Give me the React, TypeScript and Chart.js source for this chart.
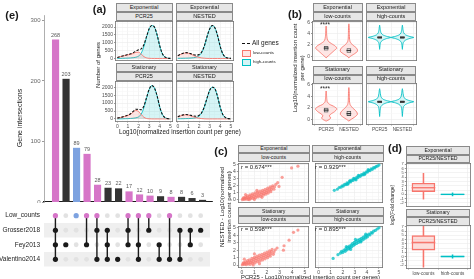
import React, { useEffect, useRef } from 'react';
import { Chart, registerables } from 'chart.js';

Chart.register(...registerables);

// ================= DATA =================
const phases = ['Exponential', 'Stationary'];
const methods = ['PCR25', 'NESTED'];
const countGroups = ['low-counts', 'high-counts'];

// (e) UpSet plot
const setNames = ['Low_counts', 'Grosser2018', 'Fey2013', 'Valentino2014'];
const intersectionSizes = [268, 203, 89, 79, 28, 23, 22, 17, 12, 10, 9, 8, 8, 6, 3];
const memberLow = [1, 0, 1, 1, 1, 0, 0, 1, 1, 1, 0, 1, 0, 0, 0];
const memberGrosser = [1, 0, 0, 0, 1, 1, 0, 1, 0, 1, 0, 0, 1, 1, 1];
const memberFey = [1, 1, 0, 1, 0, 1, 0, 1, 1, 0, 1, 0, 0, 1, 0];
const memberValentino = [1, 0, 0, 0, 1, 1, 1, 0, 1, 0, 1, 1, 1, 0, 0];
const intersectionTicks = [0, 100, 200, 300];

// (a) density curves (Number of genes vs log10 count)
const densityX = [0, 0.25, 0.5, 0.75, 1, 1.25, 1.5, 1.75, 2, 2.25, 2.5, 2.75, 3, 3.25, 3.5, 3.75, 4, 4.25, 4.5, 4.75, 5];
const densExpPcrLow = [60, 110, 150, 190, 230, 260, 320, 390, 400, 280, 120, 40, 10, 3, 0, 0, 0, 0, 0, 0, 0];
const densExpPcrHigh = [5, 8, 12, 18, 25, 35, 50, 80, 150, 330, 750, 1350, 1880, 2100, 2000, 1500, 800, 300, 90, 20, 5];
const densExpPcrAll = [65, 118, 162, 208, 255, 295, 370, 470, 550, 610, 870, 1390, 1890, 2103, 2000, 1500, 800, 300, 90, 20, 5];
const densExpNestLow = [170, 250, 320, 350, 330, 270, 190, 120, 70, 35, 15, 5, 0, 0, 0, 0, 0, 0, 0, 0, 0];
const densExpNestHigh = [10, 12, 15, 20, 25, 35, 50, 90, 180, 380, 780, 1380, 1880, 2100, 1950, 1450, 750, 280, 80, 20, 5];
const densExpNestAll = [180, 262, 335, 370, 355, 305, 240, 210, 250, 415, 795, 1385, 1880, 2100, 1950, 1450, 750, 280, 80, 20, 5];
const densStatPcrLow = [50, 80, 120, 170, 220, 300, 430, 540, 470, 280, 110, 30, 8, 0, 0, 0, 0, 0, 0, 0, 0];
const densStatPcrHigh = [5, 8, 10, 15, 20, 30, 45, 70, 130, 300, 700, 1300, 1850, 2100, 1950, 1450, 750, 280, 80, 20, 5];
const densStatPcrAll = [55, 88, 130, 185, 240, 330, 475, 610, 600, 580, 810, 1330, 1858, 2100, 1950, 1450, 750, 280, 80, 20, 5];
const densStatNestLow = [130, 190, 240, 260, 240, 190, 130, 80, 45, 20, 8, 0, 0, 0, 0, 0, 0, 0, 0, 0, 0];
const densStatNestHigh = [10, 12, 15, 20, 25, 35, 50, 90, 180, 380, 760, 1300, 1800, 2000, 1900, 1400, 720, 270, 80, 20, 5];
const densStatNestAll = [140, 202, 255, 280, 265, 225, 180, 170, 225, 400, 768, 1300, 1800, 2000, 1900, 1400, 720, 270, 80, 20, 5];
const densityYTicks = [0, 500, 1000, 1500, 2000];

// (b) violin profiles: levels (log10 count) and half-widths
const vioExpPcrLowY = [-0.3, 0, 0.5, 1.0, 1.4, 1.8, 2.2, 2.6, 3.0, 3.5, 4.0, 4.5, 5.0, 5.3];
const vioExpPcrLowW = [0, 0.08, 0.22, 0.36, 0.47, 0.4, 0.24, 0.1, 0.05, 0.03, 0.02, 0.02, 0.015, 0];
const vioExpNestLowY = [-0.3, 0, 0.4, 0.8, 1.1, 1.5, 2.0, 2.5, 3.0, 4.0, 5.0, 5.7];
const vioExpNestLowW = [0, 0.08, 0.24, 0.37, 0.38, 0.32, 0.16, 0.06, 0.03, 0.02, 0.015, 0];
const vioStatPcrLowY = [-0.3, 0, 0.25, 0.6, 0.9, 1.3, 1.8, 2.2, 2.6, 3.0, 3.5, 4.0, 4.5, 4.9];
const vioStatPcrLowW = [0, 0.15, 0.2, 0.14, 0.2, 0.36, 0.48, 0.36, 0.15, 0.05, 0.03, 0.02, 0.015, 0];
const vioStatNestLowY = [-0.3, 0, 0.4, 0.8, 1.1, 1.5, 2.0, 2.5, 3.0, 4.0, 5.0, 5.5];
const vioStatNestLowW = [0, 0.1, 0.26, 0.37, 0.37, 0.3, 0.16, 0.06, 0.03, 0.02, 0.015, 0];
const vioExpHighY = [1.2, 2.0, 2.5, 2.85, 3.1, 3.3, 3.5, 3.75, 4.1, 4.6, 5.1, 5.45];
const vioExpHighW = [0, 0.02, 0.05, 0.15, 0.3, 0.5, 0.3, 0.14, 0.06, 0.03, 0.015, 0];
const vioStatHighY = [0.5, 1.5, 2.2, 2.6, 2.85, 3.05, 3.25, 3.5, 3.9, 4.5, 5.0, 5.3];
const vioStatHighW = [0, 0.02, 0.05, 0.15, 0.3, 0.5, 0.3, 0.14, 0.06, 0.03, 0.015, 0];
// inner boxes [q1, median, q3]
const boxExpPcrLow = [1.05, 1.4, 1.75];
const boxExpNestLow = [0.65, 1.0, 1.35];
const boxStatPcrLow = [1.25, 1.6, 1.95];
const boxStatNestLow = [0.65, 1.0, 1.4];
const boxExpHigh = [3.15, 3.3, 3.45];
const boxStatHigh = [2.9, 3.05, 3.2];

// (c) scatter PCR25 vs NESTED
const scatExpLow: number[][] = [[0.05,0.02],[0.1,0.15],[0.15,0.3],[0.2,0.05],[0.25,0.2],[0.3,0.4],[0.35,0.1],[0.4,0.3],[0.45,0.55],[0.5,0.05],[0.55,0.25],[0.6,0.45],[0.65,0.7],[0.7,0.15],[0.75,0.35],[0.8,0.6],[0.85,0.85],[0.9,0.2],[0.95,0.45],[1.0,0.7],[1.05,1.0],[1.1,0.3],[1.15,0.55],[1.2,0.85],[1.25,1.1],[1.3,0.4],[1.35,0.65],[1.4,0.95],[1.45,1.25],[1.5,0.5],[1.55,0.8],[1.6,1.05],[1.65,1.35],[1.7,0.65],[1.75,0.9],[1.8,1.2],[1.85,1.5],[1.9,0.8],[1.95,1.05],[2.0,1.35],[2.05,1.65],[2.1,0.95],[2.15,1.25],[2.2,1.55],[2.25,1.85],[2.3,1.15],[2.35,1.45],[2.4,1.75],[2.45,2.0],[2.55,1.5],[2.6,1.85],[2.7,2.2],[0.3,0.75],[2.85,2.45],[3.2,3.2],[2.95,1.9],[3.95,4.55],[4.45,4.8],[1.2,1.35],[1.6,0.35],[1.0,0.05],[0.6,0.02]];
const scatExpHigh: number[][] = [[1.3,1.35],[1.55,1.5],[1.7,1.75],[1.85,1.8],[1.95,2.0],[2.05,1.95],[2.15,2.2],[2.25,2.15],[2.35,2.4],[2.45,2.35],[2.55,2.6],[2.65,2.55],[2.75,2.8],[2.85,2.75],[2.95,3.0],[3.05,2.95],[3.15,3.2],[3.25,3.15],[3.35,3.4],[3.45,3.35],[3.55,3.6],[3.65,3.55],[3.75,3.8],[3.85,3.75],[3.95,4.0],[4.05,3.95],[4.15,4.2],[4.25,4.15],[4.35,4.4],[4.45,4.35],[4.55,4.6],[4.65,4.55],[4.75,4.75],[4.85,4.8],[5.0,4.95],[2.4,2.2],[2.9,3.05],[3.3,3.5],[3.8,3.6],[2.6,2.75],[3.1,2.85],[4.1,4.3]];
const scatStatLow: number[][] = [[0.05,0.05],[0.1,0.2],[0.15,0.35],[0.2,0.1],[0.25,0.25],[0.3,0.45],[0.35,0.05],[0.4,0.3],[0.45,0.6],[0.5,0.15],[0.55,0.4],[0.6,0.7],[0.65,0.1],[0.7,0.35],[0.75,0.6],[0.8,0.9],[0.85,0.25],[0.9,0.5],[0.95,0.8],[1.0,1.05],[1.05,0.3],[1.1,0.6],[1.15,0.9],[1.2,1.2],[1.25,0.45],[1.3,0.75],[1.35,1.05],[1.4,1.35],[1.45,0.55],[1.5,0.85],[1.55,1.15],[1.6,1.45],[1.65,0.7],[1.7,1.0],[1.75,1.3],[1.8,1.6],[1.85,0.85],[1.9,1.15],[1.95,1.45],[2.0,1.75],[2.05,1.0],[2.1,1.3],[2.15,1.6],[2.2,1.9],[2.25,1.2],[2.3,1.5],[2.35,1.8],[2.4,2.1],[2.5,1.45],[2.55,1.75],[2.65,2.05],[0.2,0.8],[1.0,1.5],[3.3,2.0],[3.35,2.6],[3.75,3.35],[4.1,4.4],[4.45,4.7],[2.8,2.3],[1.4,0.2],[0.9,0.02]];
const scatStatHigh: number[][] = [[1.2,0.9],[1.6,1.4],[1.8,1.6],[1.9,1.85],[2.0,1.7],[2.1,2.0],[2.2,1.85],[2.25,2.2],[2.35,2.05],[2.4,2.4],[2.5,2.2],[2.55,2.55],[2.6,2.35],[2.7,2.7],[2.75,2.45],[2.8,2.9],[2.9,2.65],[2.95,3.05],[3.0,2.8],[3.1,3.2],[3.15,2.9],[3.25,3.35],[3.3,3.05],[3.4,3.45],[3.45,3.2],[3.55,3.6],[3.6,3.35],[3.7,3.75],[3.75,3.5],[3.85,3.9],[3.9,3.65],[4.0,4.0],[4.05,3.8],[4.15,4.15],[4.25,4.05],[4.35,4.35],[4.45,4.3],[4.55,4.55],[4.7,4.65],[4.85,4.85],[5.0,5.0],[2.3,2.5],[2.65,2.1],[3.05,3.45],[3.5,3.1],[3.9,4.15]];
const corrLabels = [['0.674', '0.929'], ['0.598', '0.895']];

// (d) log2 fold change boxes [min, q1, median, q3, max]
const foldExpLow = [-1.1, 0.65, 1.55, 2.6, 4.9];
const foldExpHigh = [-0.35, -0.08, 0, 0.08, 0.35];
const foldStatLow = [-2.5, 1.5, 3.3, 4.9, 7.2];
const foldStatHigh = [-0.4, -0.1, 0, 0.1, 0.4];
const foldTicks = [-2, -1, 0, 1, 2, 3, 4, 5, 6, 7];

// ================= STYLE =================
const FONT = "'Liberation Sans', Arial, Helvetica, sans-serif";
const RED = '#F8766D';
const RED_FILL = 'rgba(248,118,109,0.18)';
const CYAN = '#00BFC4';
const CYAN_FILL = 'rgba(0,191,196,0.16)';
const PINK = '#D675C8';
const DARK = '#333333';
const BLUE = '#7DA2E0';
const GRID_MAJOR = '#ebebeb';
const GRID_MINOR = '#f6f6f6';
const FRAME = '#707070';
const AXIS_TXT = '#4d4d4d';

type AxisSpec = {
  min: number; max: number; ticks?: number[];
  label?: (v: number) => string;
  major?: (v: number) => boolean;
  font?: number; color?: string; grid?: boolean;
  tickLen?: number; pad?: number;
  border?: boolean; borderColor?: string; borderWidth?: number;
};

function makeAxis(pos: string, o: AxisSpec, size: number) {
  const horiz = pos === 'bottom' || pos === 'top';
  const showLabels = !!o.label;
  const tickLen = o.tickLen ?? 1.5;
  const isMajor = (v: number) => (o.major ? o.major(v) : true);
  return {
    type: 'linear', position: pos, display: true, min: o.min, max: o.max, offset: false,
    afterBuildTicks: (s: any) => { s.ticks = (o.ticks || []).map((v) => ({ value: v })); },
    afterFit: (s: any) => {
      if (horiz) s.height = size; else s.width = size;
      s.paddingLeft = 0; s.paddingRight = 0; s.paddingTop = 0; s.paddingBottom = 0;
    },
    ticks: {
      display: showLabels, autoSkip: false, maxRotation: 0, minRotation: 0,
      padding: o.pad ?? 1, color: o.color || AXIS_TXT,
      font: { family: FONT, size: o.font || 5 },
      callback: (v: any) => (showLabels ? o.label!(Number(v)) : ''),
    },
    grid: {
      display: !!o.grid || (showLabels && tickLen > 0),
      drawOnChartArea: !!o.grid,
      drawTicks: showLabels && tickLen > 0,
      tickLength: tickLen,
      color: (c: any) => (isMajor(c.tick ? c.tick.value : 0) ? GRID_MAJOR : GRID_MINOR),
      tickColor: (c: any) => (isMajor(c.tick ? c.tick.value : 0) ? '#555' : 'rgba(0,0,0,0)'),
      lineWidth: 0.6, tickWidth: 0.6,
    },
    border: { display: o.border !== false, color: o.borderColor || FRAME, width: o.borderWidth ?? 0.8 },
  };
}

function frameAxis(pos: string, show: boolean) {
  const horiz = pos === 'top';
  return {
    type: 'linear', position: pos, display: true, min: 0, max: 1,
    afterBuildTicks: (s: any) => { s.ticks = []; },
    afterFit: (s: any) => {
      if (horiz) s.height = 0; else s.width = 0;
      s.paddingLeft = 0; s.paddingRight = 0; s.paddingTop = 0; s.paddingBottom = 0;
    },
    ticks: { display: false },
    grid: { display: false, drawTicks: false },
    border: { display: show, color: FRAME, width: 0.8 },
  };
}

type PanelSpec = {
  plot: { x: number; y: number; w: number; h: number };
  left: number; bottom: number;
  xAxis: AxisSpec; yAxis: AxisSpec;
  datasets: any[]; frame?: boolean; plugins?: any[];
};

function PanelCanvas({ spec }: { spec: PanelSpec }) {
  const ref = useRef<HTMLCanvasElement>(null);
  const { plot, left, bottom } = spec;
  const cx = Math.floor(plot.x - left - 1);
  const cy = Math.floor(plot.y - 2);
  const cw = Math.ceil(plot.x + plot.w + 2) - cx;
  const ch = Math.ceil(plot.y + plot.h + bottom + 1) - cy;
  useEffect(() => {
    const pad = {
      left: plot.x - left - cx,
      top: plot.y - cy,
      right: cx + cw - (plot.x + plot.w),
      bottom: cy + ch - (plot.y + plot.h + bottom),
    };
    const frame = spec.frame !== false;
    const chart = new Chart(ref.current as HTMLCanvasElement, {
      type: 'line',
      data: { datasets: spec.datasets },
      options: {
        animation: false, responsive: false, devicePixelRatio: 1, events: [],
        layout: { padding: pad },
        plugins: { legend: { display: false }, tooltip: { enabled: false }, title: { display: false } },
        scales: {
          x: makeAxis('bottom', spec.xAxis, bottom),
          y: makeAxis('left', spec.yAxis, left),
          xt: frameAxis('top', frame),
          yr: frameAxis('right', frame),
        },
      },
      plugins: spec.plugins || [],
    } as any);
    return () => chart.destroy();
  }, []);
  return <canvas ref={ref} width={cw} height={ch} style={{ position: 'absolute', left: cx, top: cy, width: cw, height: ch }} />;
}

function Txt({ x, y, s = 6, bold = false, color = '#1a1a1a', rot = 0, align = 'center', children }: any) {
  const tx = align === 'center' ? '-50%' : align === 'right' ? '-100%' : '0%';
  return (
    <div style={{ position: 'absolute', left: x, top: y, transform: `translate(${tx}, -50%) rotate(${rot}deg)`, fontFamily: FONT, fontSize: s, fontWeight: bold ? 700 : 400, color, whiteSpace: 'pre', lineHeight: 1.15, textAlign: 'center' }}>
      {children}
    </div>
  );
}

function Strip({ x, y, w, h, text, s }: any) {
  return (
    <div style={{ position: 'absolute', left: x, top: y, width: w, height: h, boxSizing: 'border-box', border: '1px solid #8a8a8a', background: '#e6e6e6', display: 'flex', alignItems: 'center', justifyContent: 'center', fontFamily: FONT, fontSize: s, color: '#1a1a1a', whiteSpace: 'nowrap', overflow: 'hidden', lineHeight: 1 }}>
      {text}
    </div>
  );
}

// ================= BUILDERS =================
const halfSteps = (a: number, b: number) => { const r: number[] = []; for (let v = a; v <= b + 1e-9; v += 0.5) r.push(Math.round(v * 10) / 10); return r; };
const isInt = (v: number) => Math.abs(v - Math.round(v)) < 1e-6;

function barColor(i: number) {
  if (!memberLow[i]) return DARK;
  const others = memberGrosser[i] + memberFey[i] + memberValentino[i];
  return others === 0 ? BLUE : PINK;
}

const barLabelPlugin = {
  id: 'barLabels',
  afterDatasetsDraw(chart: any) {
    const meta = chart.getDatasetMeta(0);
    const ctx = chart.ctx;
    ctx.save();
    ctx.font = `5.5px ${FONT}`;
    ctx.fillStyle = '#5a5a5a';
    ctx.textAlign = 'center';
    ctx.textBaseline = 'bottom';
    meta.data.forEach((el: any, i: number) => ctx.fillText(String(intersectionSizes[i]), el.x, el.y - 2));
    ctx.restore();
  },
};

function upsetBarSpec(): PanelSpec {
  return {
    plot: { x: 44, y: 15, w: 168, h: 187 }, left: 44, bottom: 0, frame: false,
    xAxis: { min: -0.1, max: 15.9, ticks: [], borderColor: '#1a1a1a', borderWidth: 1.1 },
    yAxis: { min: 0, max: 309, ticks: intersectionTicks, label: (v) => String(v), font: 6, color: '#666', tickLen: 2, pad: 1.5, borderColor: '#8c8c8c', borderWidth: 0.7 },
    datasets: [{
      type: 'bar', grouped: false, barThickness: 6.5, borderWidth: 0,
      data: intersectionSizes.map((v, i) => ({ x: i + 1, y: v })),
      backgroundColor: intersectionSizes.map((_, i) => barColor(i)),
    }],
    plugins: [barLabelPlugin],
  };
}

function upsetMatrixSpec(): PanelSpec {
  const members = [memberLow, memberGrosser, memberFey, memberValentino];
  const rowVal = [4, 3, 2, 1];
  const empty: any[] = [];
  const full: any[] = [];
  const fullColors: string[] = [];
  const links: any[] = [];
  intersectionSizes.forEach((_, i) => {
    const rows: number[] = [];
    members.forEach((m, r) => {
      if (m[i]) {
        full.push({ x: i + 1, y: rowVal[r] });
        fullColors.push(r === 0 ? barColor(i) : '#1a1a1a');
        rows.push(rowVal[r]);
      } else empty.push({ x: i + 1, y: rowVal[r] });
    });
    if (rows.length > 1) {
      links.push({ x: i + 1, y: Math.max(...rows) }, { x: i + 1, y: Math.min(...rows) }, { x: i + 1, y: null });
    }
  });
  const band = (r: number) => [
    { x: -0.1, y: r - 0.5 }, { x: 15.9, y: r - 0.5 }, { x: 15.9, y: r + 0.5 }, { x: -0.1, y: r + 0.5 }, { x: -0.1, y: r - 0.5 },
  ];
  return {
    plot: { x: 44, y: 206, w: 168, h: 63.6 }, left: 44, bottom: 0, frame: false,
    xAxis: { min: -0.1, max: 15.9, ticks: [], border: false },
    yAxis: { min: 0.47, max: 4.53, ticks: [1, 2, 3, 4], label: (v) => setNames[4 - v], font: 6.5, color: '#222', tickLen: 0, pad: 4, border: false },
    datasets: [
      { data: band(3), fill: 'shape', backgroundColor: '#efefef', borderWidth: 0, pointRadius: 0, order: 10 },
      { data: band(1), fill: 'shape', backgroundColor: '#efefef', borderWidth: 0, pointRadius: 0, order: 10 },
      { type: 'scatter', data: empty, pointRadius: 2.4, pointBackgroundColor: '#e2e2e2', pointBorderWidth: 0, order: 5 },
      { data: links, borderColor: '#1a1a1a', borderWidth: 1.4, pointRadius: 0, spanGaps: false, order: 3 },
      { type: 'scatter', data: full, pointRadius: 2.6, pointBackgroundColor: fullColors, pointBorderWidth: 0, order: 1 },
    ],
  };
}

const A_COLS = [115.5, 176];
const A_W = 57;
const A_ROWS = [{ y: 21, h: 39.5 }, { y: 81, h: 40 }];

function densitySpec(c: number, r: number, low: number[], high: number[], all: number[]): PanelSpec {
  const pts = (arr: number[]) => arr.map((v, i) => ({ x: densityX[i], y: v }));
  return {
    plot: { x: A_COLS[c], y: A_ROWS[r].y, w: A_W, h: A_ROWS[r].h },
    left: c === 0 ? 16 : 0, bottom: r === 1 ? 8 : 0,
    xAxis: { min: -0.17, max: 5.2, ticks: halfSteps(0, 5), major: isInt, grid: true, label: r === 1 ? (v) => (isInt(v) ? String(v) : '') : undefined, font: 5, pad: 1 },
    yAxis: { min: -130, max: 2390, ticks: [0, 250, 500, 750, 1000, 1250, 1500, 1750, 2000, 2250], major: (v) => v % 500 === 0, grid: true, label: c === 0 ? (v) => (densityYTicks.includes(v) ? String(v) : '') : undefined, font: 5, pad: 1 },
    datasets: [
      { data: pts(all), borderColor: '#111', borderWidth: 1.1, borderDash: [2.5, 1.6], fill: false, pointRadius: 0, cubicInterpolationMode: 'monotone', order: 0 },
      { data: pts(low), borderColor: RED, borderWidth: 0.9, backgroundColor: RED_FILL, fill: 'origin', pointRadius: 0, cubicInterpolationMode: 'monotone', order: 1 },
      { data: pts(high), borderColor: CYAN, borderWidth: 0.9, backgroundColor: CYAN_FILL, fill: 'origin', pointRadius: 0, cubicInterpolationMode: 'monotone', order: 2 },
    ],
  };
}

const B_COLS = [312.5, 366];
const B_W = 50;
const B_ROWS = [{ y: 21, h: 39.7 }, { y: 83.5, h: 40.5 }];

function violinPoly(center: number, ys: number[], ws: number[]) {
  const right = ys.map((y, i) => ({ x: center + ws[i], y }));
  const left = ys.map((y, i) => ({ x: center - ws[i], y })).reverse();
  return [...right, ...left, right[0]];
}

function violinSpec(c: number, r: number, v1y: number[], v1w: number[], v2y: number[], v2w: number[], b1: number[], b2: number[]): PanelSpec {
  const color = c === 0 ? RED : CYAN;
  const fill = c === 0 ? RED_FILL : CYAN_FILL;
  return {
    plot: { x: B_COLS[c], y: B_ROWS[r].y, w: B_W, h: B_ROWS[r].h },
    left: c === 0 ? 8 : 0, bottom: r === 1 ? 9 : 0,
    xAxis: { min: 0.4, max: 2.6, ticks: [1, 2], grid: true, label: r === 1 ? (v) => methods[v - 1] : undefined, font: 4.8, pad: 1.5 },
    yAxis: { min: -0.8, max: 6.2, ticks: [0, 1, 2, 3, 4, 5, 6], major: (v) => v % 2 === 0, grid: true, label: c === 0 ? (v) => (v % 2 === 0 ? String(v) : '') : undefined, font: 5, pad: 1 },
    datasets: [
      { data: violinPoly(1, v1y, v1w), borderColor: color, backgroundColor: fill, borderWidth: 0.9, fill: 'shape', pointRadius: 0, tension: 0.15, order: 3 },
      { data: violinPoly(2, v2y, v2w), borderColor: color, backgroundColor: fill, borderWidth: 0.9, fill: 'shape', pointRadius: 0, tension: 0.15, order: 3 },
      { type: 'bar', grouped: false, barThickness: 4, data: [{ x: 1, y: [b1[0], b1[2]] }, { x: 2, y: [b2[0], b2[2]] }], backgroundColor: 'rgba(255,255,255,0.55)', borderColor: '#333', borderWidth: 0.6, borderSkipped: false, order: 2 },
      { type: 'bar', grouped: false, barThickness: 4, data: [{ x: 1, y: [b1[1] - 0.05, b1[1] + 0.05] }, { x: 2, y: [b2[1] - 0.05, b2[1] + 0.05] }], backgroundColor: '#333', borderWidth: 0, order: 1 },
    ],
  };
}

const C_COLS = [238, 312];
const C_W = 71.5;
const C_ROWS = [{ y: 161.5, h: 43 }, { y: 224, h: 43.5 }];

function scatterSpec(c: number, r: number, pts: number[][]): PanelSpec {
  const color = c === 0 ? 'rgba(248,118,109,0.7)' : 'rgba(0,191,196,0.75)';
  return {
    plot: { x: C_COLS[c], y: C_ROWS[r].y, w: C_W, h: C_ROWS[r].h },
    left: c === 0 ? 7 : 0, bottom: r === 1 ? 7 : 0,
    xAxis: { min: -0.3, max: 5.25, ticks: halfSteps(0, 5), major: isInt, grid: true, label: r === 1 ? (v) => (isInt(v) ? String(v) : '') : undefined, font: 5, pad: 0.5, tickLen: 1.2 },
    yAxis: { min: -0.32, max: 5.25, ticks: halfSteps(0, 5), major: isInt, grid: true, label: c === 0 ? (v) => (isInt(v) ? String(v) : '') : undefined, font: 5, pad: 1, tickLen: 1.2 },
    datasets: [
      { type: 'scatter', data: pts.map(([x, y]) => ({ x, y })), pointRadius: 1.6, pointBackgroundColor: color, pointBorderWidth: 0 },
    ],
  };
}

const D_X = 406;
const D_W = 64;
const D_ROWS = [{ y: 163, h: 43 }, { y: 225.5, h: 42.5 }];

function foldSpec(r: number, low: number[], high: number[]): PanelSpec {
  const both = [low, high];
  const lines = [RED, CYAN];
  const fills = ['rgba(248,118,109,0.25)', 'rgba(0,191,196,0.25)'];
  const bar = (getY: (s: number[]) => number[], extra: any) => ({ type: 'bar', grouped: false, data: both.map((s, i) => ({ x: i + 1, y: getY(s) })), ...extra });
  return {
    plot: { x: D_X, y: D_ROWS[r].y, w: D_W, h: D_ROWS[r].h },
    left: 8, bottom: r === 1 ? 7 : 0,
    xAxis: { min: 0.4, max: 2.6, ticks: [1, 2], grid: true, label: r === 1 ? (v) => countGroups[v - 1] : undefined, font: 4.6, pad: 1 },
    yAxis: { min: -2.7, max: 7.3, ticks: foldTicks, grid: true, label: (v) => String(v), font: 4, pad: 1, tickLen: 1.2 },
    datasets: [
      bar((s) => [s[0], s[1]], { backgroundColor: lines, barThickness: 0.9, borderWidth: 0, order: 3 }),
      bar((s) => [s[3], s[4]], { backgroundColor: lines, barThickness: 0.9, borderWidth: 0, order: 3 }),
      bar((s) => [s[1], s[3]], { backgroundColor: fills, borderColor: lines, borderWidth: 0.8, borderSkipped: false, barThickness: 23, order: 2 }),
      bar((s) => [s[2] - 0.08, s[2] + 0.08], { backgroundColor: lines, borderWidth: 0, barThickness: 23, order: 1 }),
    ],
  };
}

const PANELS: PanelSpec[] = [
  upsetBarSpec(),
  upsetMatrixSpec(),
  densitySpec(0, 0, densExpPcrLow, densExpPcrHigh, densExpPcrAll),
  densitySpec(1, 0, densExpNestLow, densExpNestHigh, densExpNestAll),
  densitySpec(0, 1, densStatPcrLow, densStatPcrHigh, densStatPcrAll),
  densitySpec(1, 1, densStatNestLow, densStatNestHigh, densStatNestAll),
  violinSpec(0, 0, vioExpPcrLowY, vioExpPcrLowW, vioExpNestLowY, vioExpNestLowW, boxExpPcrLow, boxExpNestLow),
  violinSpec(1, 0, vioExpHighY, vioExpHighW, vioExpHighY, vioExpHighW, boxExpHigh, boxExpHigh),
  violinSpec(0, 1, vioStatPcrLowY, vioStatPcrLowW, vioStatNestLowY, vioStatNestLowW, boxStatPcrLow, boxStatNestLow),
  violinSpec(1, 1, vioStatHighY, vioStatHighW, vioStatHighY, vioStatHighW, boxStatHigh, boxStatHigh),
  scatterSpec(0, 0, scatExpLow),
  scatterSpec(1, 0, scatExpHigh),
  scatterSpec(0, 1, scatStatLow),
  scatterSpec(1, 1, scatStatHigh),
  foldSpec(0, foldExpLow, foldExpHigh),
  foldSpec(1, foldStatLow, foldStatHigh),
];

export default function App() {
  const strips: any[] = [];
  [0, 1].forEach((r) => [0, 1].forEach((c) => {
    const py = A_ROWS[r].y;
    strips.push(<Strip key={`as1${r}${c}`} x={A_COLS[c]} y={py - 18} w={A_W} h={9} s={5.5} text={phases[r]} />);
    strips.push(<Strip key={`as2${r}${c}`} x={A_COLS[c]} y={py - 9} w={A_W} h={9} s={5.5} text={methods[c]} />);
    const by = B_ROWS[r].y;
    strips.push(<Strip key={`bs1${r}${c}`} x={B_COLS[c]} y={by - 18} w={B_W} h={9} s={5.5} text={phases[r]} />);
    strips.push(<Strip key={`bs2${r}${c}`} x={B_COLS[c]} y={by - 9} w={B_W} h={9} s={5.5} text={countGroups[c]} />);
    const cy = C_ROWS[r].y;
    strips.push(<Strip key={`cs1${r}${c}`} x={C_COLS[c]} y={cy - 17} w={C_W} h={8.5} s={5.2} text={phases[r]} />);
    strips.push(<Strip key={`cs2${r}${c}`} x={C_COLS[c]} y={cy - 8.5} w={C_W} h={8.5} s={5.2} text={countGroups[c]} />);
  }));
  [0, 1].forEach((r) => {
    const dy = D_ROWS[r].y;
    strips.push(<Strip key={`ds1${r}`} x={D_X} y={dy - 17} w={D_W} h={8.5} s={5.2} text={phases[r]} />);
    strips.push(<Strip key={`ds2${r}`} x={D_X} y={dy - 8.5} w={D_W} h={8.5} s={5.2} text={'PCR25/NESTED'} />);
  });

  return (
    <div style={{ position: 'fixed', left: 0, top: 0, width: 474, height: 279, background: '#fff', overflow: 'hidden' }}>
      {PANELS.map((p, i) => <PanelCanvas key={'p' + i} spec={p} />)}
      {strips}

      {/* panel letters */}
      <Txt x={12} y={15} s={11} bold>(e)</Txt>
      <Txt x={99.5} y={9} s={11} bold>(a)</Txt>
      <Txt x={295} y={13.5} s={11} bold>(b)</Txt>
      <Txt x={221} y={151} s={11} bold>(c)</Txt>
      <Txt x={395} y={148} s={11} bold>(d)</Txt>

      {/* (e) */}
      <Txt x={20} y={118} s={7} rot={-90}>Gene intersections</Txt>

      {/* (a) */}
      <Txt x={97.5} y={65} s={6} rot={-90}>Number of genes</Txt>
      <Txt x={180} y={132} s={6.3}>Log10(normalized insertion count per gene)</Txt>
      <div style={{ position: 'absolute', left: 242, top: 42.5, width: 8, height: 0, borderTop: '1.3px dashed #111' }} />
      <Txt x={252} y={43} s={6.5} align="left">All genes</Txt>
      <div style={{ position: 'absolute', left: 241.5, top: 50, width: 9, height: 6.5, boxSizing: 'border-box', border: `1px solid ${RED}`, background: RED_FILL }} />
      <Txt x={253} y={53.2} s={4.4} align="left">low-counts</Txt>
      <div style={{ position: 'absolute', left: 241.5, top: 59, width: 9, height: 6.5, boxSizing: 'border-box', border: `1px solid ${CYAN}`, background: CYAN_FILL }} />
      <Txt x={253} y={62.2} s={4.4} align="left">high-counts</Txt>

      {/* (b) */}
      <Txt x={298.5} y={68} s={6} rot={-90}>{'Log10(normalized insertion count\nper gene)'}</Txt>
      <Txt x={325} y={25} s={6.5}>****</Txt>
      <Txt x={325} y={88.5} s={6.5}>****</Txt>

      {/* (c) */}
      <Txt x={224.5} y={207} s={6.2} rot={-90}>{'NESTED - Log10(normalized\ninsertion count per genes)'}</Txt>
      <Txt x={310.5} y={276.5} s={5.8}>PCR25 - Log10(normalized insertion count per genes)</Txt>
      {[0, 1].map((r) => [0, 1].map((c) => (
        <Txt key={`r${r}${c}`} x={C_COLS[c] + 3} y={C_ROWS[r].y + 5} s={6} align="left">{`r = ${corrLabels[r][c]}***`}</Txt>
      )))}

      {/* (d) */}
      <Txt x={393} y={205} s={5} rot={-90}>log2(Fold change)</Txt>
    </div>
  );
}
